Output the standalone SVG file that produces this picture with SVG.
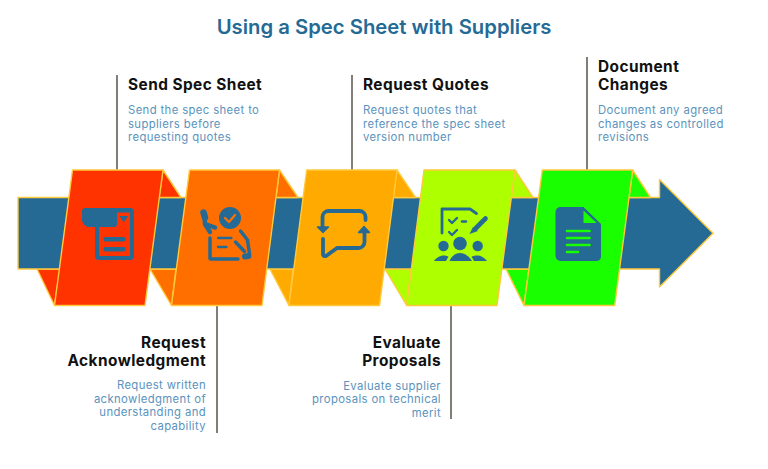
<svg xmlns="http://www.w3.org/2000/svg" width="768" height="469" viewBox="0 0 768 469">
<style>
text{font-family:"Inter","Open Sans","Liberation Sans",sans-serif}
.title{font-size:20.3px;font-weight:600;fill:#256a94}
.head{font-size:15.4px;font-weight:700;fill:#111;letter-spacing:.45px}
.body{font-size:11.3px;fill:#5a93bd;letter-spacing:.38px}
.end{text-anchor:end}
.edge{stroke:#ffc93c;stroke-width:1.4;stroke-linejoin:round}
.lead{stroke:#57534a;stroke-width:1.5;fill:none}
.ic{fill:#256a94}
.il{fill:none;stroke:#256a94;stroke-linecap:round;stroke-linejoin:round}
</style>
<rect width="768" height="469" fill="#fff"/>
<text class="title" x="384" y="34" text-anchor="middle">Using a Spec Sheet with Suppliers</text>
<g id="connectors">
<line class="lead" x1="117" y1="75" x2="117" y2="170"/>
<line class="lead" x1="352" y1="75" x2="352" y2="170"/>
<line class="lead" x1="587" y1="57" x2="587" y2="170"/>
<line class="lead" x1="217" y1="305" x2="217" y2="433"/>
<line class="lead" x1="451" y1="305" x2="451" y2="419"/>
</g>
<g id="flaps">
<polygon class="edge" fill="#ff3300" points="37,269 60,269 54.500,305.500"/>
<polygon class="edge" fill="#ff6f00" points="150,269 176,269 171.500,305.500"/>
<polygon class="edge" fill="#ffaa00" points="270,269 293,269 289,305.500"/>
<polygon class="edge" fill="#aeff00" points="385,269 411,269 406.700,305.500"/>
<polygon class="edge" fill="#1aff00" points="506,269 529,269 524,305.500"/>
</g>
<g id="arrow"><polygon class="edge" fill="#256a94" points="18,197.500 659.500,197.500 659.500,179.500 713,233.300 659.500,287 659.500,269 18,269"/></g>
<g id="topflaps">
<polygon class="edge" fill="#ff3300" points="163,170 181,197.500 159,197.500"/>
<polygon class="edge" fill="#ff6f00" points="279.500,170 298,197.500 276,197.500"/>
<polygon class="edge" fill="#ffaa00" points="397,170 415.500,197.500 393,197.500"/>
<polygon class="edge" fill="#aeff00" points="515,170 533,197.500 511,197.500"/>
<polygon class="edge" fill="#1aff00" points="632.700,170 650.500,197.500 629,197.500"/>
</g>
<g id="step1">
<polygon class="edge" fill="#ff3300" points="72.500,170 163,170 145,305.500 54.500,305.500"/>
<path class="ic" d="M86 208h44a4 4 0 0 1 4 4v44a4 4 0 0 1-4 4H99a4 4 0 0 1-4-4v-29h-5a8 8 0 0 1-8-8v-7a4 4 0 0 1 4-4z"/>
<rect x="99" y="212.500" width="31" height="43.500" fill="#ff3300"/>
<path class="ic" d="M86 208h28a3 3 0 0 1 3 3v13a3 3 0 0 1-3 3H90a8 8 0 0 1-8-8v-7a4 4 0 0 1 4-4z"/>
<polygon class="ic" points="119.500,216 128,216 123.700,222.500"/>
<rect class="ic" x="103.500" y="237" width="22" height="4.500" rx="2"/>
<rect class="ic" x="103.500" y="247" width="22" height="4.500" rx="2"/>
</g>
<g id="step2">
<polygon class="edge" fill="#ff6f00" points="189.500,170 279.500,170 262,305.500 171.500,305.500"/>
<circle cx="230" cy="218" r="11" fill="#256a94"/>
<path d="M225 218l4 4 6-7" fill="none" stroke="#ff6f00" stroke-width="2.200" stroke-linecap="round" stroke-linejoin="round"/>
<path class="il" stroke-width="6.500" d="M203.500 212.500l1.500 5"/>
<path class="il" stroke-width="4.500" d="M204.500 216l.5 8 5 8M208 225l7 2.500"/>
<path class="il" stroke-width="3.500" d="M210 238v20a1 1 0 0 0 1 1h27"/>
<path class="il" stroke-width="2.300" d="M218 238h13.500M218 247h8.500"/>
<path class="il" stroke-width="3.500" d="M240.500 231l7 9 2 14M235.500 242l9 9.500"/>
<path class="il" stroke-width="6" d="M245 256.500l3.500-.5"/>
</g>
<g id="step3">
<polygon class="edge" fill="#ffaa00" points="306.700,170 397,170 379.500,305.500 289,305.500"/>
<path class="il" stroke-width="3.800" d="M322.500 228v-11a6 6 0 0 1 6-6h31a6 6 0 0 1 6 6v3"/>
<polygon class="ic edge" style="stroke:#256a94" points="317.500,227 328.500,227 323,232.500"/>
<path class="il" stroke-width="3.800" d="M364.500 231v11a6 6 0 0 1-6 6h-21.500l-11 8h-1a2 2 0 0 1-2-2v-15"/>
<polygon class="ic edge" style="stroke:#256a94" points="358.500,232.500 369.500,232.500 364,226.500"/>
</g>
<g id="step4">
<polygon class="edge" fill="#aeff00" points="424,170 515,170 497,305.500 406.700,305.500"/>
<path class="il" stroke-width="2.800" d="M442 233v-24h28l6.500 4.500"/>
<path class="il" stroke-width="2.400" d="M449 220l3 3 5-5M449 232l3 3 5-5"/>
<path class="il" stroke-width="2.400" d="M462 221.500h4"/>
<path class="il" stroke-width="4.600" d="M485.500 218.500l-10 10"/>
<polygon class="ic" points="473,227 469.500,234 478,231"/>
<circle class="ic" cx="443.500" cy="246" r="5.200"/><circle class="ic" cx="460" cy="243.500" r="6.800"/><circle class="ic" cx="477.700" cy="246" r="5.200"/>
<path class="ic" d="M434 261c3-4 7-5.500 9.500-5.500s4 .5 5 1.500c-1 1-1.500 2.500-2.500 4zM449.500 261c2-5 6-8 10.500-8s9 3 12 8zM474 261c-1-1.500-1.500-3-2.500-4 1-1 3-1.500 6-1.500s7 2 9.500 5.500z"/>
</g>
<g id="step5">
<polygon class="edge" fill="#1aff00" points="542.300,170 632.700,170 614.700,305.500 524,305.500"/>
<path class="ic" d="M560.500 207h23l17.500 17v32.500a4.500 4.500 0 0 1-4.500 4.500h-36a5 5 0 0 1-5-5V212a5 5 0 0 1 5-5z"/>
<polygon fill="#1aff00" points="583.500,210.500 583.500,223 596.700,223"/>
<g stroke="#1aff00" stroke-width="2.600" stroke-linecap="round"><line x1="567" y1="231" x2="589.500" y2="231"/><line x1="567" y1="238" x2="589.500" y2="238"/><line x1="567" y1="245" x2="589.500" y2="245"/><line x1="567" y1="252" x2="578" y2="252"/></g>
</g>
<g id="label1"><text class="head" x="128" y="90">Send Spec Sheet</text>
<text class="body" x="128" y="114">Send the spec sheet to</text><text class="body" x="128" y="128">suppliers before</text><text class="body" x="128" y="141">requesting quotes</text></g>
<g id="label2"><text class="head end" x="206" y="348">Request</text><text class="head end" x="206" y="366">Acknowledgment</text>
<text class="body end" x="206" y="389">Request written</text><text class="body end" x="206" y="403">acknowledgment of</text><text class="body end" x="206" y="416">understanding and</text><text class="body end" x="206" y="430">capability</text></g>
<g id="label3"><text class="head" x="363" y="90">Request Quotes</text>
<text class="body" x="363" y="114">Request quotes that</text><text class="body" x="363" y="128">reference the spec sheet</text><text class="body" x="363" y="141">version number</text></g>
<g id="label4"><text class="head end" x="441" y="348">Evaluate</text><text class="head end" x="441" y="366">Proposals</text>
<text class="body end" x="441" y="390">Evaluate supplier</text><text class="body end" x="441" y="403">proposals on technical</text><text class="body end" x="441" y="417">merit</text></g>
<g id="label5"><text class="head" x="598" y="72">Document</text><text class="head" x="598" y="90">Changes</text>
<text class="body" x="598" y="114">Document any agreed</text><text class="body" x="598" y="128">changes as controlled</text><text class="body" x="598" y="141">revisions</text></g>
</svg>
